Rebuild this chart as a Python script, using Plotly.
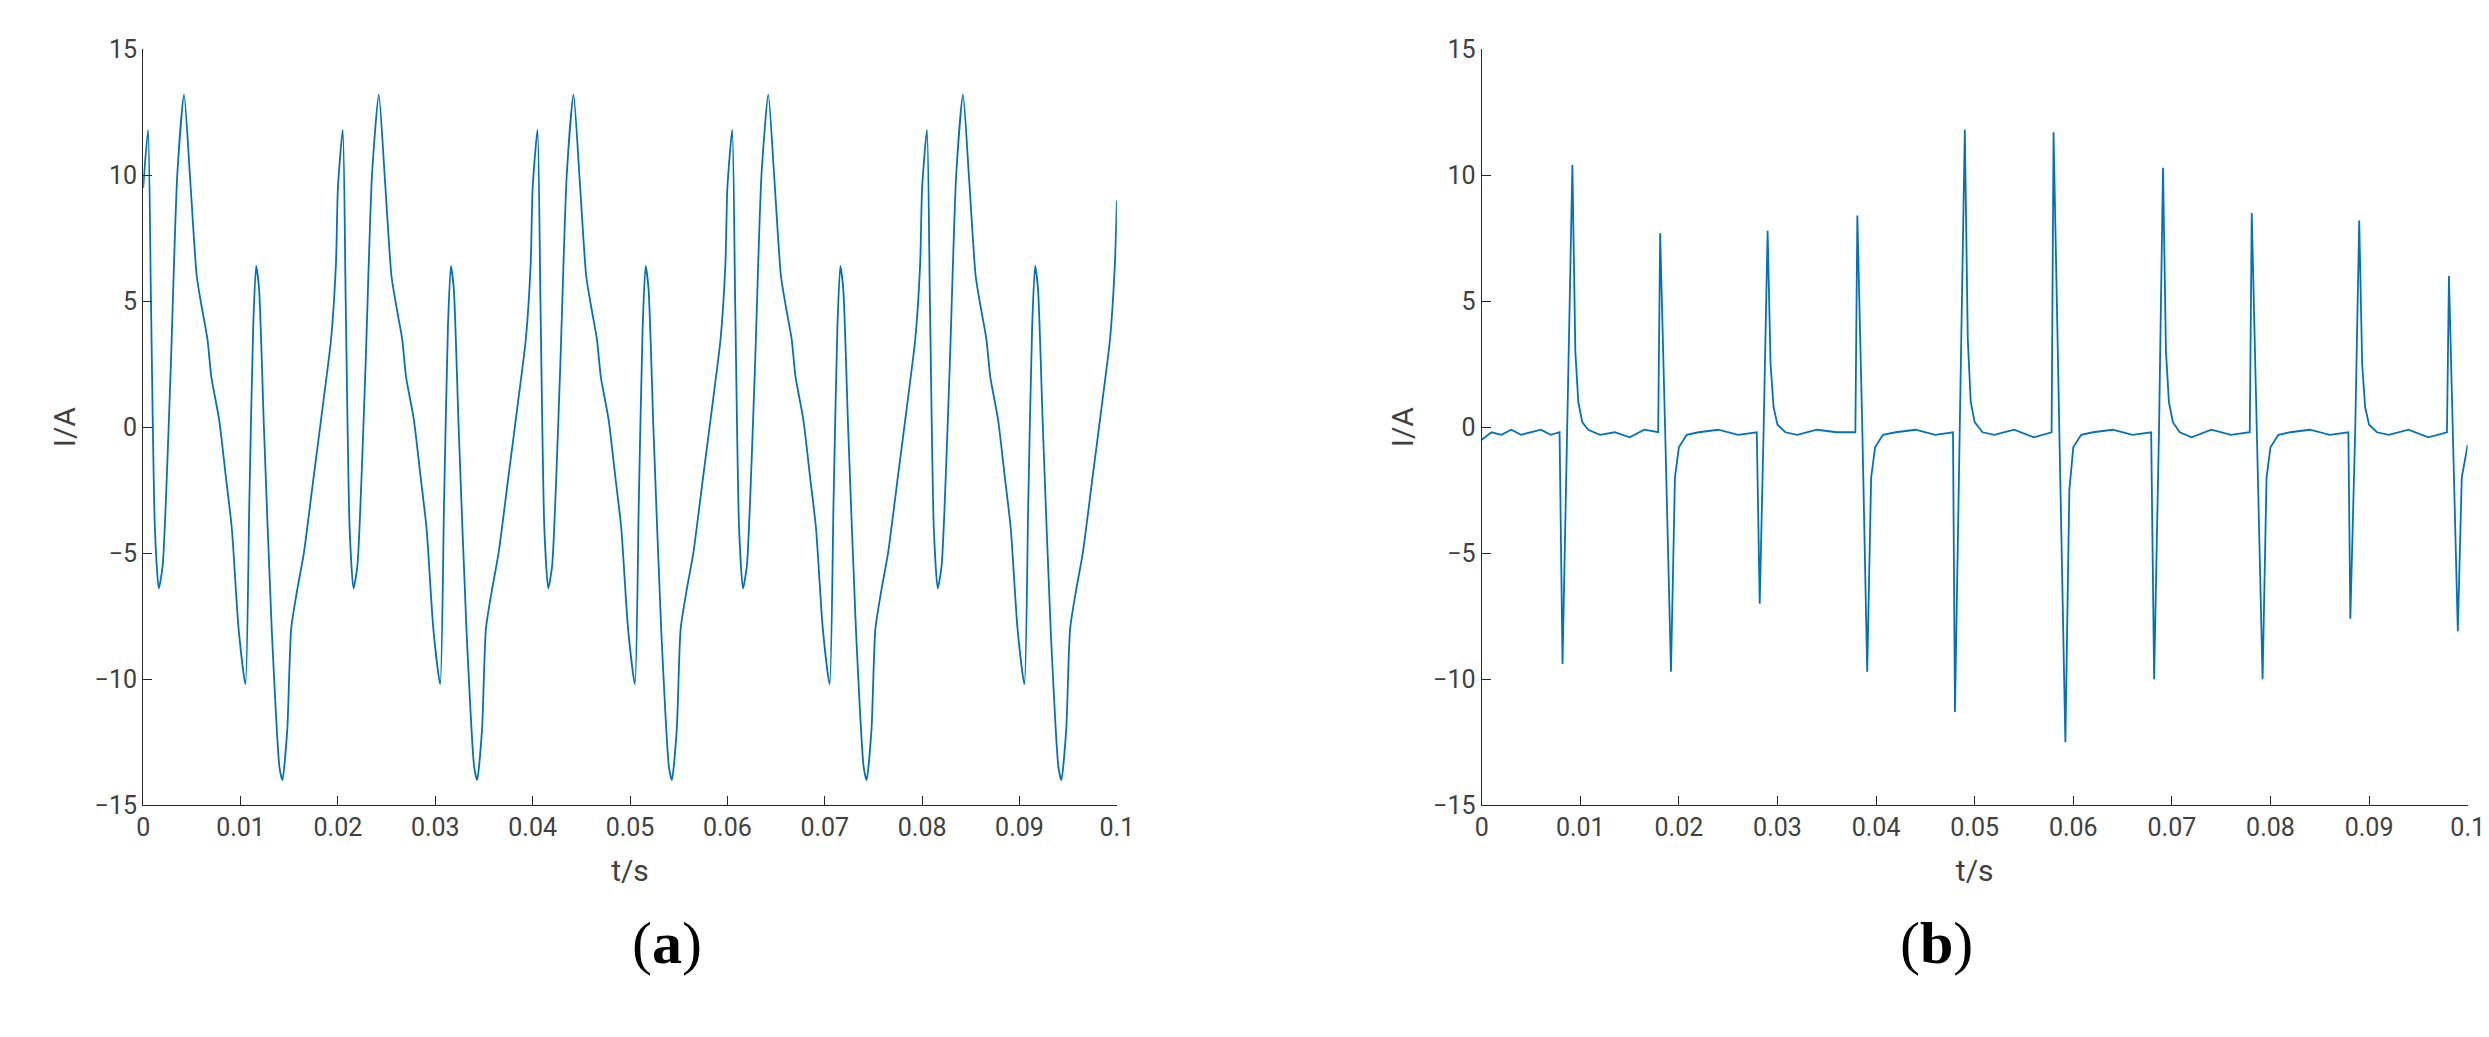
import numpy as np
import plotly.graph_objects as go
from plotly.subplots import make_subplots

# (a) one period (0.02 s) of the current
cycle_t = [0.0000, 0.0005, 0.0008, 0.0012, 0.0016, 0.0020, 0.0028, 0.0035, 0.0042,
           0.0048, 0.0055, 0.0060, 0.0066, 0.0070, 0.0078, 0.0085, 0.0091, 0.0098,
           0.0105, 0.0109, 0.0113, 0.0116, 0.0119, 0.0124, 0.0132, 0.0140, 0.0143,
           0.0148, 0.0152, 0.0158, 0.0165, 0.0175, 0.0185, 0.0193, 0.0198]
cycle_i = [9.5, 11.8, 5.0, -4.0, -6.4, -5.5, 2.0, 10.0, 13.2,
           10.0, 6.0, 4.8, 3.5, 2.0, 0.3, -2.0, -4.0, -8.0,
           -10.2, -3.0, 4.0, 6.4, 5.5, 0.0, -8.0, -13.5, -14.0,
           -12.0, -8.0, -6.5, -5.0, -2.0, 1.0, 3.5, 6.5]
n_cycles = 5
end_t, end_i = 0.1, 9.0

# (b) current with spikes
t_b = [0.0000, 0.0010, 0.0020, 0.0030, 0.0040, 0.0050, 0.0060, 0.0070, 0.0079,
       0.0082, 0.0087, 0.0092, 0.0095, 0.0098, 0.0102, 0.0108, 0.0120, 0.0135, 0.0150, 0.0165, 0.0179,
       0.0181, 0.0186, 0.0192, 0.0196, 0.0200, 0.0208, 0.0220, 0.0240, 0.0260, 0.0279,
       0.0282, 0.0286, 0.0290, 0.0293, 0.0296, 0.0300, 0.0308, 0.0320, 0.0340, 0.0360, 0.0379,
       0.0381, 0.0386, 0.0391, 0.0395, 0.0399, 0.0407, 0.0420, 0.0440, 0.0460, 0.0478,
       0.0480, 0.0485, 0.0490, 0.0493, 0.0496, 0.0500, 0.0508, 0.0520, 0.0540, 0.0560, 0.0578,
       0.0580, 0.0586, 0.0592, 0.0596, 0.0600, 0.0608, 0.0620, 0.0640, 0.0660, 0.0679,
       0.0682, 0.0687, 0.0691, 0.0694, 0.0697, 0.0701, 0.0708, 0.0720, 0.0740, 0.0760, 0.0779,
       0.0781, 0.0786, 0.0792, 0.0796, 0.0800, 0.0808, 0.0820, 0.0840, 0.0860, 0.0879,
       0.0881, 0.0886, 0.0890, 0.0893, 0.0896, 0.0900, 0.0908, 0.0920, 0.0940, 0.0960, 0.0979,
       0.0981, 0.0985, 0.0990, 0.0994, 0.1000]
i_b = [-0.5, -0.2, -0.3, -0.1, -0.3, -0.2, -0.1, -0.3, -0.2,
       -9.4, 0.0, 10.4, 3.0, 1.0, 0.2, -0.1, -0.3, -0.2, -0.4, -0.1, -0.2,
       7.7, 0.0, -9.7, -2.0, -0.8, -0.3, -0.2, -0.1, -0.3, -0.2,
       -7.0, 0.0, 7.8, 2.5, 0.8, 0.1, -0.2, -0.3, -0.1, -0.2, -0.2,
       8.4, 0.0, -9.7, -2.0, -0.8, -0.3, -0.2, -0.1, -0.3, -0.2,
       -11.3, 0.0, 11.8, 3.5, 1.0, 0.2, -0.2, -0.3, -0.1, -0.4, -0.2,
       11.7, 0.0, -12.5, -2.5, -0.8, -0.3, -0.2, -0.1, -0.3, -0.2,
       -10.0, 0.0, 10.3, 3.0, 1.0, 0.2, -0.2, -0.4, -0.1, -0.3, -0.2,
       8.5, 0.0, -10.0, -2.0, -0.8, -0.3, -0.2, -0.1, -0.3, -0.2,
       -7.6, 0.0, 8.2, 2.5, 0.8, 0.1, -0.2, -0.3, -0.1, -0.4, -0.2,
       6.0, 0.0, -8.1, -2.0, -0.7]

x_ticks = [0, 0.01, 0.02, 0.03, 0.04, 0.05, 0.06, 0.07, 0.08, 0.09, 0.1]
x_labels = ["0", "0.01", "0.02", "0.03", "0.04", "0.05", "0.06", "0.07", "0.08", "0.09", "0.1"]
y_ticks = [-15, -10, -5, 0, 5, 10, 15]

t_a = np.concatenate([np.array(cycle_t) + 0.02 * k for k in range(n_cycles)] + [[end_t]])
i_a = np.concatenate([cycle_i] * n_cycles + [[end_i]])

blue = "#0072BD"
fig = make_subplots(rows=1, cols=2)
fig.add_trace(go.Scatter(x=t_a, y=i_a, mode="lines",
                         line=dict(color=blue, width=1.8, shape="spline", smoothing=0.6)), row=1, col=1)
fig.add_trace(go.Scatter(x=t_b, y=i_b, mode="lines", line=dict(color=blue, width=1.8)), row=1, col=2)

ax_style = dict(showline=True, linecolor="#262626", linewidth=1.3, ticks="inside",
                ticklen=9, tickcolor="#262626", showgrid=False, zeroline=False,
                tickfont=dict(family="Roboto", size=25, color="#404040"),
                mirror=False)
title_font = dict(family="Roboto", size=30, color="#404040")
for c, dom in [(1, [0.052, 0.447]), (2, [0.595, 0.995])]:
    fig.update_xaxes(ax_style, range=[0, 0.1], tickvals=x_ticks, ticktext=x_labels,
                     domain=dom, title=dict(text="t/s", font=title_font, standoff=18),
                     row=1, col=c)
    fig.update_yaxes(ax_style, range=[-15, 15], tickvals=y_ticks, domain=[0.223, 0.973],
                     title=dict(text="I/A", font=title_font, standoff=10),
                     row=1, col=c)

for txt, xc in [("(<b>a</b>)", 0.2495), ("(<b>b</b>)", 0.795)]:
    fig.add_annotation(text=txt, x=xc, y=0.052, xref="paper", yref="paper", showarrow=False,
                       font=dict(family="Liberation Serif", size=60, color="black"))

fig.update_layout(width=2489, height=1037, margin=dict(l=0, r=0, t=0, b=0),
                  plot_bgcolor="white", paper_bgcolor="white", showlegend=False)
fig.write_html("out.html")
